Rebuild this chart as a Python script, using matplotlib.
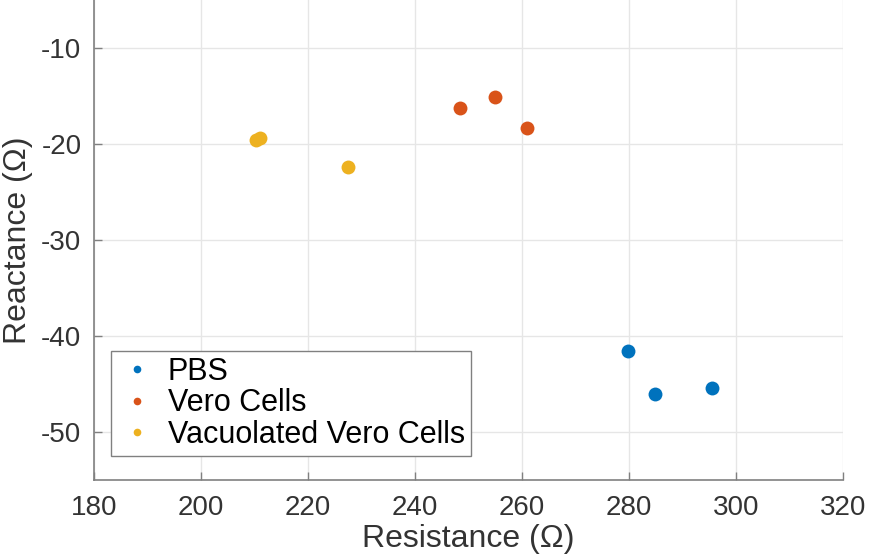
import matplotlib
matplotlib.use("Agg")
import matplotlib.pyplot as plt

plt.rcParams['font.family'] = ['Liberation Sans', 'DejaVu Sans']
plt.rcParams['axes.unicode_minus'] = False

series_names = ["PBS", "Vero Cells", "Vacuolated Vero Cells"]
pbs_x = [279.8, 284.9, 295.5]
pbs_y = [-41.6, -46.0, -45.4]
vero_x = [248.4, 255.0, 260.9]
vero_y = [-16.3, -15.1, -18.3]
vac_x = [210.3, 211.1, 227.5]
vac_y = [-19.6, -19.4, -22.4]
colors = ["#0072BD", "#D95319", "#EDB120"]

xticks = [180, 200, 220, 240, 260, 280, 300, 320]
yticks = [-50, -40, -30, -20, -10]

fig = plt.figure(figsize=(8.69, 5.6), dpi=100)
ax = fig.add_axes([94/869, 80/560, 749/869, 480/560])

for xs, ys, c, n in zip([pbs_x, vero_x, vac_x], [pbs_y, vero_y, vac_y], colors, series_names):
    ax.plot(xs, ys, linestyle='none', marker='o', markersize=10, color=c,
            markeredgewidth=0, label=n)

ax.set_xlim(180, 320)
ax.set_ylim(-55, -5)
ax.set_xticks(xticks)
ax.set_yticks(yticks)
ax.grid(True, color='#e6e6e6', linewidth=1)
ax.set_axisbelow(True)
for s in ['top', 'right']:
    ax.spines[s].set_visible(False)
for s in ['left', 'bottom']:
    ax.spines[s].set_color('#808080')
    ax.spines[s].set_linewidth(1.2)
ax.tick_params(direction='in', length=6, width=1, color='#808080',
               labelsize=20, labelcolor='#333333')
ax.tick_params(axis='x', pad=11)
ax.tick_params(axis='y', pad=9)

ax.set_xlabel("Resistance (Ω)", fontsize=23, color='#333333', labelpad=2)
ax.set_ylabel("Reactance (Ω)", fontsize=23, color='#333333', labelpad=6)

leg = ax.legend(loc='lower left', bbox_to_anchor=(0.0227, 0.05), borderaxespad=0,
                fontsize=22, markerscale=0.55, handlelength=1.3, handletextpad=0.35,
                labelspacing=0.05, borderpad=0.2, fancybox=False, framealpha=1,
                edgecolor='#808080')
leg.get_frame().set_linewidth(1.0)

fig.savefig("out.png", dpi=100)
